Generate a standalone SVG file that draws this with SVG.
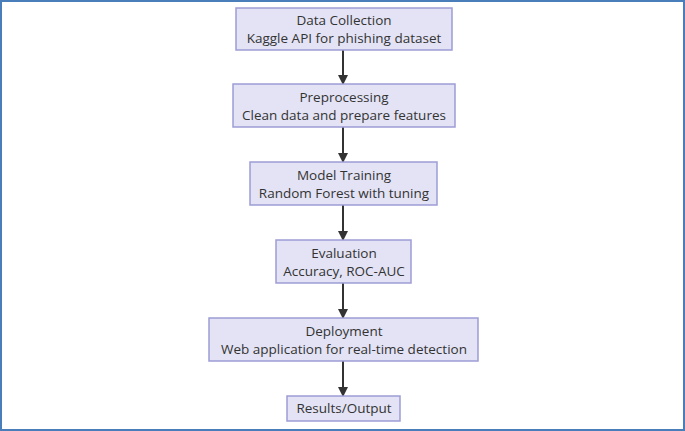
<svg xmlns="http://www.w3.org/2000/svg" width="685" height="431" viewBox="0 0 685 431">
<style>
.n{fill:#e3e3f5;stroke:#9d9dd6;stroke-width:1.5}
.t{font-family:"Open Sans","Noto Sans",sans-serif;font-size:13.5px;fill:#333;text-anchor:middle}
.c{stroke:#333;stroke-width:2;fill:none;marker-end:url(#a)}
</style>
<defs><marker id="a" markerWidth="10" markerHeight="10" refX="9" refY="5" orient="auto" markerUnits="userSpaceOnUse"><path d="M0,0 L10,5 L0,10 Z" fill="#333"/></marker></defs>
<rect x="1" y="1" width="683" height="429" fill="#fff" stroke="#4a7ebb" stroke-width="2"/>
<g id="connectors">
<line class="c" x1="343" y1="50" x2="343" y2="84"/>
<line class="c" x1="343" y1="127" x2="343" y2="162"/>
<line class="c" x1="343" y1="205" x2="343" y2="240"/>
<line class="c" x1="343" y1="283" x2="343" y2="318"/>
<line class="c" x1="343" y1="361" x2="343" y2="396"/>
</g>
<g id="n1"><rect class="n" x="236" y="8" width="216" height="42"/><text class="t" x="344" y="25">Data Collection</text><text class="t" x="344" y="43">Kaggle API for phishing dataset</text></g>
<g id="n2"><rect class="n" x="233" y="84" width="222" height="43"/><text class="t" x="344" y="102">Preprocessing</text><text class="t" x="344" y="120">Clean data and prepare features</text></g>
<g id="n3"><rect class="n" x="250" y="162" width="187" height="43"/><text class="t" x="344" y="180">Model Training</text><text class="t" x="344" y="198">Random Forest with tuning</text></g>
<g id="n4"><rect class="n" x="276" y="240" width="135" height="43"/><text class="t" x="344" y="258">Evaluation</text><text class="t" x="344" y="276">Accuracy, ROC-AUC</text></g>
<g id="n5"><rect class="n" x="209" y="318" width="269" height="43"/><text class="t" x="344" y="336">Deployment</text><text class="t" x="344" y="354">Web application for real-time detection</text></g>
<g id="n6"><rect class="n" x="287" y="396" width="113" height="25"/><text class="t" x="344" y="413">Results/Output</text></g>
</svg>
